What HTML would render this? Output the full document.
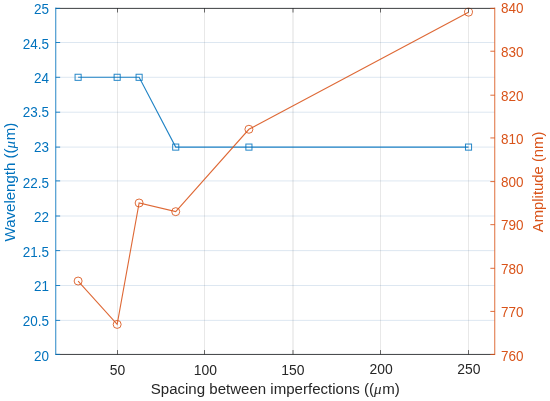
<!DOCTYPE html><html><head><meta charset="utf-8"><title>chart</title><style>html,body{margin:0;padding:0;background:#fff}svg{display:block}text{font-family:"Liberation Sans",sans-serif}</style></head><body>
<svg width="550" height="401" viewBox="0 0 550 401">
<rect width="550" height="401" fill="#fff"/>
<line x1="117.50" y1="8.1" x2="117.50" y2="354.45" stroke="#262626" stroke-opacity="0.105" stroke-width="1"/>
<line x1="204.50" y1="8.1" x2="204.50" y2="354.45" stroke="#262626" stroke-opacity="0.105" stroke-width="1"/>
<line x1="293.00" y1="8.1" x2="293.00" y2="354.45" stroke="#262626" stroke-opacity="0.15" stroke-width="1"/>
<line x1="380.50" y1="8.1" x2="380.50" y2="354.45" stroke="#262626" stroke-opacity="0.105" stroke-width="1"/>
<line x1="468.50" y1="8.1" x2="468.50" y2="354.45" stroke="#262626" stroke-opacity="0.105" stroke-width="1"/>
<line x1="55.75" y1="354.40" x2="494.75" y2="354.40" stroke="#2A6AA6" stroke-opacity="0.16" stroke-width="1"/>
<line x1="55.75" y1="320.40" x2="494.75" y2="320.40" stroke="#2A6AA6" stroke-opacity="0.16" stroke-width="1"/>
<line x1="55.75" y1="285.50" x2="494.75" y2="285.50" stroke="#2A6AA6" stroke-opacity="0.16" stroke-width="1"/>
<line x1="55.75" y1="250.60" x2="494.75" y2="250.60" stroke="#2A6AA6" stroke-opacity="0.16" stroke-width="1"/>
<line x1="55.75" y1="216.00" x2="494.75" y2="216.00" stroke="#2A6AA6" stroke-opacity="0.16" stroke-width="1"/>
<line x1="55.75" y1="180.90" x2="494.75" y2="180.90" stroke="#2A6AA6" stroke-opacity="0.16" stroke-width="1"/>
<line x1="55.75" y1="147.10" x2="494.75" y2="147.10" stroke="#2A6AA6" stroke-opacity="0.16" stroke-width="1"/>
<line x1="55.75" y1="112.20" x2="494.75" y2="112.20" stroke="#2A6AA6" stroke-opacity="0.16" stroke-width="1"/>
<line x1="55.75" y1="77.30" x2="494.75" y2="77.30" stroke="#2A6AA6" stroke-opacity="0.16" stroke-width="1"/>
<line x1="55.75" y1="42.50" x2="494.75" y2="42.50" stroke="#2A6AA6" stroke-opacity="0.16" stroke-width="1"/>
<line x1="55.75" y1="8.40" x2="494.75" y2="8.40" stroke="#2A6AA6" stroke-opacity="0.16" stroke-width="1"/>
<polyline points="78.12,77.30 117.16,77.30 139.12,77.30 175.72,147.10 248.92,147.10 468.52,147.10" fill="none" stroke="#0072BD" stroke-width="1.1" stroke-opacity="0.88"/>
<rect x="75.07" y="74.25" width="6.1" height="6.1" fill="none" stroke="#0072BD" stroke-width="1" stroke-opacity="0.85"/>
<rect x="114.11" y="74.25" width="6.1" height="6.1" fill="none" stroke="#0072BD" stroke-width="1" stroke-opacity="0.85"/>
<rect x="136.07" y="74.25" width="6.1" height="6.1" fill="none" stroke="#0072BD" stroke-width="1" stroke-opacity="0.85"/>
<rect x="172.67" y="144.05" width="6.1" height="6.1" fill="none" stroke="#0072BD" stroke-width="1" stroke-opacity="0.85"/>
<rect x="245.87" y="144.05" width="6.1" height="6.1" fill="none" stroke="#0072BD" stroke-width="1" stroke-opacity="0.85"/>
<rect x="465.47" y="144.05" width="6.1" height="6.1" fill="none" stroke="#0072BD" stroke-width="1" stroke-opacity="0.85"/>
<polyline points="78.12,281.04 117.16,324.41 139.12,202.99 175.72,211.66 248.92,129.28 468.52,12.20" fill="none" stroke="#D95319" stroke-width="1.1" stroke-opacity="0.88"/>
<circle cx="78.12" cy="281.04" r="4.0" fill="none" stroke="#D95319" stroke-width="1" stroke-opacity="0.85"/>
<circle cx="117.16" cy="324.41" r="4.0" fill="none" stroke="#D95319" stroke-width="1" stroke-opacity="0.85"/>
<circle cx="139.12" cy="202.99" r="4.0" fill="none" stroke="#D95319" stroke-width="1" stroke-opacity="0.85"/>
<circle cx="175.72" cy="211.66" r="4.0" fill="none" stroke="#D95319" stroke-width="1" stroke-opacity="0.85"/>
<circle cx="248.92" cy="129.28" r="4.0" fill="none" stroke="#D95319" stroke-width="1" stroke-opacity="0.85"/>
<circle cx="468.52" cy="12.20" r="4.0" fill="none" stroke="#D95319" stroke-width="1" stroke-opacity="0.85"/>
<line x1="55.75" y1="8.4" x2="494.75" y2="8.4" stroke="#262626" stroke-width="1" stroke-opacity="0.85"/>
<line x1="55.75" y1="354.45" x2="494.75" y2="354.45" stroke="#262626" stroke-width="1" stroke-opacity="0.85"/>
<line x1="117.50" y1="354.45" x2="117.50" y2="350.05" stroke="#262626" stroke-width="0.8" stroke-opacity="0.85"/>
<line x1="117.50" y1="8.1" x2="117.50" y2="12.5" stroke="#262626" stroke-width="0.8" stroke-opacity="0.85"/>
<text x="117.60" y="374.7" font-size="13.9" fill="#262626" text-anchor="middle">50</text>
<line x1="204.50" y1="354.45" x2="204.50" y2="350.05" stroke="#262626" stroke-width="0.8" stroke-opacity="0.85"/>
<line x1="204.50" y1="8.1" x2="204.50" y2="12.5" stroke="#262626" stroke-width="0.8" stroke-opacity="0.85"/>
<text x="205.30" y="374.6" font-size="13.9" fill="#262626" text-anchor="middle">100</text>
<line x1="293.00" y1="354.45" x2="293.00" y2="350.05" stroke="#262626" stroke-width="0.8" stroke-opacity="0.85"/>
<line x1="293.00" y1="8.1" x2="293.00" y2="12.5" stroke="#262626" stroke-width="0.8" stroke-opacity="0.85"/>
<text x="292.90" y="374.6" font-size="13.9" fill="#262626" text-anchor="middle">150</text>
<line x1="380.50" y1="354.45" x2="380.50" y2="350.05" stroke="#262626" stroke-width="0.8" stroke-opacity="0.85"/>
<line x1="380.50" y1="8.1" x2="380.50" y2="12.5" stroke="#262626" stroke-width="0.8" stroke-opacity="0.85"/>
<text x="381.05" y="374.4" font-size="13.9" fill="#262626" text-anchor="middle">200</text>
<line x1="468.50" y1="354.45" x2="468.50" y2="350.05" stroke="#262626" stroke-width="0.8" stroke-opacity="0.85"/>
<line x1="468.50" y1="8.1" x2="468.50" y2="12.5" stroke="#262626" stroke-width="0.8" stroke-opacity="0.85"/>
<text x="468.80" y="374.2" font-size="13.9" fill="#262626" text-anchor="middle">250</text>
<line x1="55.75" y1="7.6" x2="55.75" y2="354.95" stroke="#0072BD" stroke-width="1" stroke-opacity="0.85"/>
<line x1="494.75" y1="7.6" x2="494.75" y2="354.95" stroke="#D95319" stroke-width="1" stroke-opacity="0.85"/>
<line x1="55.75" y1="354.40" x2="60.15" y2="354.40" stroke="#0072BD" stroke-width="1" stroke-opacity="0.85"/>
<text transform="translate(48.9,360.80) scale(0.968,1)" font-size="13.95" fill="#0072BD" text-anchor="end">20</text>
<line x1="55.75" y1="320.40" x2="60.15" y2="320.40" stroke="#0072BD" stroke-width="1" stroke-opacity="0.85"/>
<text transform="translate(48.9,325.60) scale(0.968,1)" font-size="13.95" fill="#0072BD" text-anchor="end">20.5</text>
<line x1="55.75" y1="285.50" x2="60.15" y2="285.50" stroke="#0072BD" stroke-width="1" stroke-opacity="0.85"/>
<text transform="translate(48.9,291.00) scale(0.968,1)" font-size="13.95" fill="#0072BD" text-anchor="end">21</text>
<line x1="55.75" y1="250.60" x2="60.15" y2="250.60" stroke="#0072BD" stroke-width="1" stroke-opacity="0.85"/>
<text transform="translate(48.9,257.10) scale(0.968,1)" font-size="13.95" fill="#0072BD" text-anchor="end">21.5</text>
<line x1="55.75" y1="216.00" x2="60.15" y2="216.00" stroke="#0072BD" stroke-width="1" stroke-opacity="0.85"/>
<text transform="translate(48.9,221.50) scale(0.968,1)" font-size="13.95" fill="#0072BD" text-anchor="end">22</text>
<line x1="55.75" y1="180.90" x2="60.15" y2="180.90" stroke="#0072BD" stroke-width="1" stroke-opacity="0.85"/>
<text transform="translate(48.9,187.50) scale(0.968,1)" font-size="13.95" fill="#0072BD" text-anchor="end">22.5</text>
<line x1="55.75" y1="147.10" x2="60.15" y2="147.10" stroke="#0072BD" stroke-width="1" stroke-opacity="0.85"/>
<text transform="translate(48.9,152.10) scale(0.968,1)" font-size="13.95" fill="#0072BD" text-anchor="end">23</text>
<line x1="55.75" y1="112.20" x2="60.15" y2="112.20" stroke="#0072BD" stroke-width="1" stroke-opacity="0.85"/>
<text transform="translate(48.9,117.40) scale(0.968,1)" font-size="13.95" fill="#0072BD" text-anchor="end">23.5</text>
<line x1="55.75" y1="77.30" x2="60.15" y2="77.30" stroke="#0072BD" stroke-width="1" stroke-opacity="0.85"/>
<text transform="translate(48.9,83.30) scale(0.968,1)" font-size="13.95" fill="#0072BD" text-anchor="end">24</text>
<line x1="55.75" y1="42.50" x2="60.15" y2="42.50" stroke="#0072BD" stroke-width="1" stroke-opacity="0.85"/>
<text transform="translate(48.9,48.60) scale(0.968,1)" font-size="13.95" fill="#0072BD" text-anchor="end">24.5</text>
<line x1="55.75" y1="8.40" x2="60.15" y2="8.40" stroke="#0072BD" stroke-width="1" stroke-opacity="0.85"/>
<text transform="translate(48.9,13.80) scale(0.968,1)" font-size="13.95" fill="#0072BD" text-anchor="end">25</text>
<line x1="494.75" y1="354.45" x2="490.35" y2="354.45" stroke="#D95319" stroke-width="1" stroke-opacity="0.85"/>
<text transform="translate(501.0,361.00) scale(0.968,1)" font-size="13.95" fill="#D95319" text-anchor="start">760</text>
<line x1="494.75" y1="311.40" x2="490.35" y2="311.40" stroke="#D95319" stroke-width="1" stroke-opacity="0.85"/>
<text transform="translate(501.0,317.00) scale(0.968,1)" font-size="13.95" fill="#D95319" text-anchor="start">770</text>
<line x1="494.75" y1="268.30" x2="490.35" y2="268.30" stroke="#D95319" stroke-width="1" stroke-opacity="0.85"/>
<text transform="translate(501.0,274.10) scale(0.968,1)" font-size="13.95" fill="#D95319" text-anchor="start">780</text>
<line x1="494.75" y1="224.67" x2="490.35" y2="224.67" stroke="#D95319" stroke-width="1" stroke-opacity="0.85"/>
<text transform="translate(501.0,229.95) scale(0.968,1)" font-size="13.95" fill="#D95319" text-anchor="start">790</text>
<line x1="494.75" y1="181.60" x2="490.35" y2="181.60" stroke="#D95319" stroke-width="1" stroke-opacity="0.85"/>
<text transform="translate(501.0,187.35) scale(0.968,1)" font-size="13.95" fill="#D95319" text-anchor="start">800</text>
<line x1="494.75" y1="137.95" x2="490.35" y2="137.95" stroke="#D95319" stroke-width="1" stroke-opacity="0.85"/>
<text transform="translate(501.0,143.90) scale(0.968,1)" font-size="13.95" fill="#D95319" text-anchor="start">810</text>
<line x1="494.75" y1="95.20" x2="490.35" y2="95.20" stroke="#D95319" stroke-width="1" stroke-opacity="0.85"/>
<text transform="translate(501.0,100.90) scale(0.968,1)" font-size="13.95" fill="#D95319" text-anchor="start">820</text>
<line x1="494.75" y1="51.22" x2="490.35" y2="51.22" stroke="#D95319" stroke-width="1" stroke-opacity="0.85"/>
<text transform="translate(501.0,56.80) scale(0.968,1)" font-size="13.95" fill="#D95319" text-anchor="start">830</text>
<line x1="494.75" y1="8.40" x2="490.35" y2="8.40" stroke="#D95319" stroke-width="1" stroke-opacity="0.85"/>
<text transform="translate(501.0,13.35) scale(0.968,1)" font-size="13.95" fill="#D95319" text-anchor="start">840</text>
<text x="275.25" y="393.8" font-size="15.05" fill="#262626" text-anchor="middle">Spacing between imperfections ((<tspan font-style="italic" font-family="'Liberation Serif','DejaVu Serif',serif" letter-spacing="0.6">μ</tspan>m)</text>
<text transform="translate(15,182.1) rotate(-90)" font-size="15.05" fill="#0072BD" text-anchor="middle">Wavelength ((<tspan font-style="italic" font-family="'Liberation Serif','DejaVu Serif',serif" letter-spacing="0.6">μ</tspan>m)</text>
<text transform="translate(542.5,181.9) rotate(-90)" font-size="14.85" fill="#D95319" text-anchor="middle">Amplitude (nm)</text>
</svg></body></html>
